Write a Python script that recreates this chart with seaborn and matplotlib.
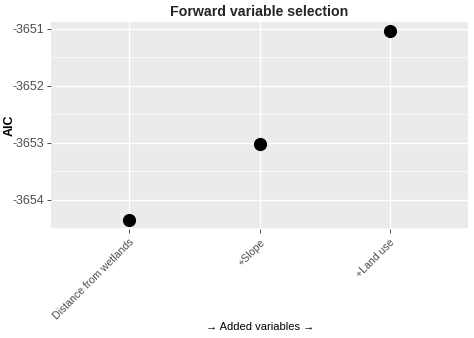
import matplotlib
matplotlib.use("Agg")
import matplotlib.pyplot as plt
import seaborn as sns
import pandas as pd
import numpy as np
from matplotlib.ticker import MultipleLocator

steps = ["Distance from wetlands", "+Slope", "+Land use"]
aic = [-3654.35, -3653.03, -3651.05]

df = pd.DataFrame({"step": steps, "AIC": aic})

sns.set_theme(style="darkgrid", rc={
    "axes.facecolor": "#EBEBEB",
    "grid.color": "white",
    "axes.edgecolor": "none",
})
plt.rcParams["font.family"] = ["Liberation Sans", "DejaVu Sans"]

fig = plt.figure(figsize=(4.74, 3.38), dpi=100)
ax = fig.add_axes([51/474, 1 - 229/338, (468-51)/474, (229-22)/338])

sns.scatterplot(data=df, x="step", y="AIC", ax=ax, s=90, color="black",
                edgecolor="black", linewidth=0, zorder=3)

ax.set_xlim(-0.6, 2.6)
lo, hi = min(aic), max(aic)
pad = (hi - lo) * 0.05
ax.set_ylim(lo - pad, hi + pad)
ax.yaxis.set_major_locator(MultipleLocator(1))
ax.yaxis.set_minor_locator(MultipleLocator(0.5))
ax.grid(which="major", color="white", linewidth=1.0)
ax.grid(which="minor", axis="y", color="white", linewidth=0.5)
ax.set_axisbelow(True)

ax.set_yticks([-3654, -3653, -3652, -3651])
ax.set_yticklabels(["-3654", "-3653", "-3652", "-3651"])
ax.tick_params(axis="both", which="major", length=3, width=0.6, color="#333333",
               labelsize=9, labelcolor="#4D4D4D", pad=2, bottom=True, left=True)
ax.tick_params(axis="x", which="major", labelsize=7.6, pad=3)
ax.tick_params(axis="both", which="minor", length=0)
plt.setp(ax.get_xticklabels(), rotation=45, ha="right", va="top", rotation_mode="anchor")

ax.set_xlabel("→ Added variables →", fontsize=8, color="black")
ax.xaxis.set_label_coords(0.501, -0.473)
ax.set_ylabel("AIC", fontsize=9, fontweight="bold", color="black")
ax.yaxis.set_label_coords(-0.098, 0.502)
ax.xaxis.label.set_va("center")
ax.yaxis.label.set_va("center")
ax.set_title("Forward variable selection", fontsize=10.2, fontweight="bold", pad=4)
for s in ax.spines.values():
    s.set_visible(False)

fig.savefig("out.png", dpi=100)
